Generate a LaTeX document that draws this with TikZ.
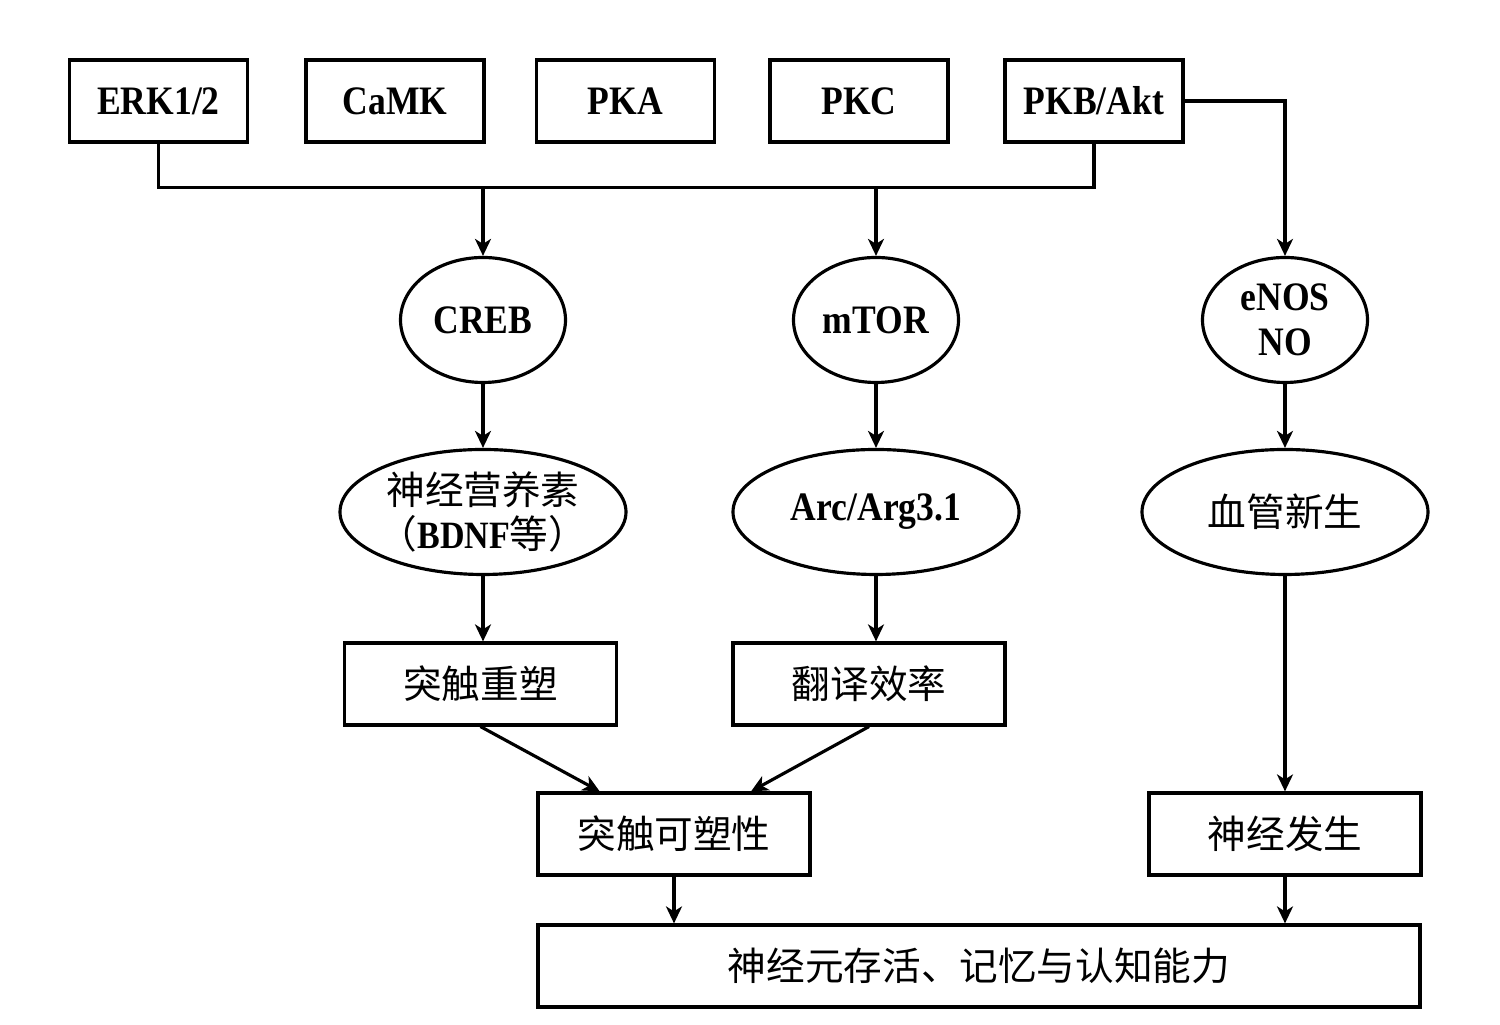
\documentclass[tikz,border=0pt]{standalone}
\usepackage{fontspec}
\setmainfont{Liberation Serif}[FakeStretch=0.88]
\newfontfamily\cjk{Noto Sans CJK SC}
\usetikzlibrary{arrows.meta,calc,shapes.geometric}
\tikzset{
  link/.style={line width=0.9pt},
  arr/.style={link,-{Stealth[length=0.17cm,width=0.16cm,inset=0.05cm]}},
  box/.style={draw,line width=0.9pt,minimum width=1.78cm,minimum height=0.82cm,inner sep=0pt,font=\fontsize{11.5}{13}\selectfont\bfseries},
  wbox/.style={box,minimum width=2.72cm,font=\fontsize{11}{13}\selectfont\cjk},
  oval/.style={draw,ellipse,line width=0.9pt,minimum width=1.65cm,minimum height=1.25cm,inner sep=0pt,align=center,font=\fontsize{11.5}{12.8}\selectfont\bfseries},
  woval/.style={oval,minimum width=2.86cm},
}

\begin{document}
\begin{tikzpicture}
  \useasboundingbox (0,0) rectangle (15,10.25);
  % kinases
  \foreach \n/\x/\t in {erk/1.585/{ERK1/2},camk/3.95/CaMK,pka/6.255/PKA,pkc/8.59/PKC,akt/10.94/{PKB/Akt}} {
    \node[box] (\n) at (\x,9.24) {\t};
  }
  % effectors
  \node[oval] (creb) at (4.83,7.05) {CREB};
  \node[oval] (mtor) at (8.76,7.05) {mTOR};
  \node[oval] (enos) at (12.85,7.05) {eNOS\\NO};
  \node[woval,inner sep=-4pt,font=\fontsize{11}{12.5}\selectfont] (bdnf) at (4.83,5.13)
    {{\cjk 神经营养素}\\{\cjk （}\textbf{BDNF}{\cjk 等）}};
  \node[woval] (arc) at (8.76,5.13) {Arc/Arg3.1};
  \node[woval,font=\fontsize{11}{13}\selectfont\cjk] (angio) at (12.85,5.13) {血管新生};
  % outcomes
  \node[wbox] (rem) at (4.805,3.41) {突触重塑};
  \node[wbox] (trans) at (8.69,3.41) {翻译效率};
  \node[wbox] (plas) at (6.74,1.91) {突触可塑性};
  \node[wbox] (neuro) at (12.85,1.91) {神经发生};
  \node[wbox,minimum width=8.82cm] (surv) at (9.79,0.59) {神经元存活、记忆与认知能力};
  % bus
  \coordinate (bus) at ($(erk.south)+(0,-0.44)$);
  \draw[link] (erk.south) -- (bus) -| (akt.south);
  \draw[arr] (bus -| creb.north) -- (creb.north);
  \draw[arr] (bus -| mtor.north) -- (mtor.north);
  \draw[arr] (akt.east) -| (enos.north);
  % chains
  \draw[arr] (creb) -- (bdnf);
  \draw[arr] (mtor) -- (arc);
  \draw[arr] (enos) -- (angio);
  \draw[arr] (bdnf.south) -- (bdnf.south |- rem.north);
  \draw[arr] (arc.south) -- (arc.south |- trans.north);
  \draw[arr] (angio.south) -- (neuro.north);
  \draw[arr] (rem.south) -- ($(plas.north west)!0.23!(plas.north east)$);
  \draw[arr] (trans.south) -- ($(plas.north west)!0.78!(plas.north east)$);
  \draw[arr] (plas.south) -- (plas.south |- surv.north);
  \draw[arr] (neuro.south) -- (neuro.south |- surv.north);
\end{tikzpicture}
\end{document}
